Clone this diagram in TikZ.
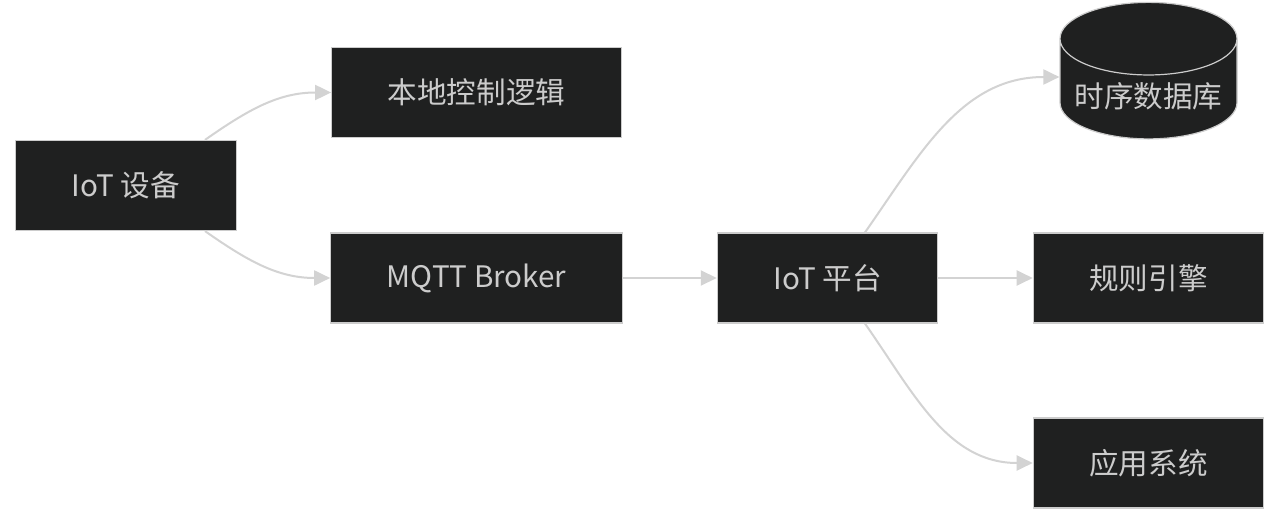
\documentclass[tikz,border=0pt]{standalone}
\usepackage{fontspec}
\setmainfont{Noto Sans CJK SC}
\usetikzlibrary{calc, arrows.meta, shapes.geometric}

\definecolor{boxfill}{HTML}{1F2020}
\definecolor{boxline}{HTML}{CCCCCC}
\definecolor{linkgray}{HTML}{D3D3D3}

\begin{document}
\begin{tikzpicture}[x=0.5pt, y=-0.5pt, >={Triangle[length=8pt, width=7.5pt]},
    box/.style={draw=boxline, line width=0.6pt, fill=boxfill, rectangle,
                text=boxline, font=\fontsize{14.8}{17}\selectfont,
                minimum height=45pt, inner xsep=28pt},
    store/.style={draw=boxline, line width=0.6pt, fill=boxfill, cylinder,
                  shape border rotate=90, aspect=0.45,
                  text=boxline, font=\fontsize{14.8}{17}\selectfont,
                  minimum height=61pt, minimum width=88.5pt},
    link/.style={draw=linkgray, line width=1pt, ->}
  ]
  \useasboundingbox[fill=white] (0,0) rectangle (1280,524);

  \node[box]   (dev)   at (126,185.5)  {IoT 设备};
  \node[box]   (local) at (476.5,92.5) {本地控制逻辑};
  \node[box]   (mqtt)  at (476.5,278)  {MQTT Broker};
  \node[box]   (plat)  at (827.5,278)  {IoT 平台};
  \node[store] (tsdb)  at (1148.5,96)  {时序数据库};
  \node[box]   (rule)  at (1148.5,278) {规则引擎};
  \node[box]   (app)   at (1148.5,463) {应用系统};

  % device side
  \draw[link] ($(dev.north)+(79,0)$) to[out=35, in=180] (local.west);
  \draw[link] ($(dev.south)+(79,0)$) to[out=-35, in=180] (mqtt.west);

  % broker -> platform
  \draw[link] (mqtt.east) -- (plat.west);

  % platform outputs
  \draw[link] ($(plat.north)+(37.5,0)$) to[out=55, in=180] ($(tsdb.west)+(0,-19)$);
  \draw[link] (plat.east) -- (rule.west);
  \draw[link] ($(plat.south)+(37.5,0)$) to[out=-55, in=180] (app.west);
\end{tikzpicture}
\end{document}
